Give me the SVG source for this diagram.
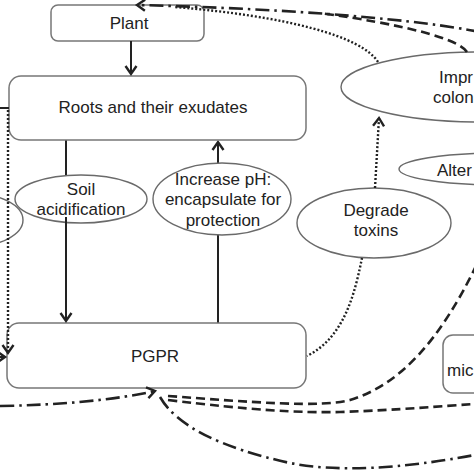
<svg xmlns="http://www.w3.org/2000/svg" width="474" height="474" viewBox="0 0 474 474">
<style>
.box{fill:#fff;stroke:#777;stroke-width:1.5}
.ell{fill:#fff;stroke:#6a6a6a;stroke-width:1.4}
.t{font-family:"Liberation Sans",Arial,sans-serif;font-size:17px;fill:#222}
.c{text-anchor:middle}
.solid{fill:none;stroke:#222;stroke-width:2}
.dot{fill:none;stroke:#222;stroke-width:2.4;stroke-dasharray:2 2}
.dash{fill:none;stroke:#222;stroke-width:2.6;stroke-dasharray:9 5}
.dd{fill:none;stroke:#222;stroke-width:2.6;stroke-dasharray:14 5 2.5 5}
</style>
<defs>
<marker id="ah" markerUnits="userSpaceOnUse" markerWidth="16" markerHeight="16" viewBox="-10 -8 12 16" refX="0" refY="0" orient="auto">
<path d="M-8,-5.5 L0,0 L-8,5.5" fill="none" stroke="#222" stroke-width="2.4"/>
</marker>
</defs>
<rect width="474" height="474" fill="#fff"/>
<g id="connectors-back">
<path class="solid" d="M66,140 V176"/>
<path class="solid" d="M218,323 V228"/>
<path class="solid" d="M218,164 V142" marker-end="url(#ah)"/>
</g>
<g id="node-left">
<ellipse class="ell" cx="-30" cy="220" rx="53" ry="27"/>
</g>
<g id="node-plant">
<rect class="box" x="51" y="5" width="153" height="36" rx="7"/>
<text class="t c" x="129" y="29">Plant</text>
</g>
<g id="node-roots">
<rect class="box" x="9" y="76" width="297" height="64" rx="12"/>
<text class="t c" x="153" y="113">Roots and their exudates</text>
</g>
<g id="node-pgpr">
<rect class="box" x="7" y="323" width="299" height="65" rx="12"/>
<text class="t c" x="155" y="362">PGPR</text>
</g>
<g id="node-soil">
<ellipse class="ell" cx="81" cy="199" rx="66" ry="24"/>
<text class="t c" x="81" y="195">Soil</text>
<text class="t c" x="81" y="215">acidification</text>
</g>
<g id="node-ph">
<ellipse class="ell" cx="222" cy="199" rx="69" ry="36"/>
<text class="t c" x="223" y="185">Increase pH:</text>
<text class="t c" x="223" y="205">encapsulate for</text>
<text class="t c" x="223" y="226">protection</text>
</g>
<g id="node-degrade">
<ellipse class="ell" cx="374" cy="223" rx="77" ry="35"/>
<text class="t c" x="376" y="216">Degrade</text>
<text class="t c" x="376" y="236">toxins</text>
</g>
<g id="node-improve">
<ellipse class="ell" cx="481" cy="87" rx="140" ry="35"/>
<text class="t" x="439" y="83">Impr</text>
<text class="t" x="433" y="103">colon</text>
</g>
<g id="node-alter">
<ellipse class="ell" cx="499" cy="169" rx="100" ry="16"/>
<text class="t" x="437" y="176">Alter</text>
</g>
<g id="node-mic">
<rect class="box" x="443" y="335" width="60" height="58" rx="10"/>
<text class="t" x="447" y="376">mic</text>
</g>
<g id="connectors">
<path class="solid" d="M131,41 V74" marker-end="url(#ah)"/>
<path class="solid" d="M66,217 V321" marker-end="url(#ah)"/>
<path class="solid" d="M0,108 H9"/>
<path class="dot" d="M8,110 V353" marker-end="url(#ah)"/>
<path class="solid" d="M-4,357 H5" marker-end="url(#ah)"/>
<path class="dd" d="M480,32 C420,20 300,9 137,5" marker-end="url(#ah)"/>
<path class="dash" d="M467,52 C458,38 400,24 320,13"/>
<path class="dot" d="M378,62 C362,36 285,16 175,7"/>
<path class="dot" d="M375,188 L379,118" marker-end="url(#ah)"/>
<path class="dot" d="M362,258 C355,292 345,337 307,356"/>
<path class="dd" d="M0,406 C60,405 115,400 155,391" marker-end="url(#ah)"/>
<path class="dd" d="M160,397 Q185,440 290,463 Q360,477 480,454"/>
<path class="dash" d="M168,396 C250,402 320,408 350,400 C400,385 440,340 476,266"/>
<path class="dash" d="M168,400 C250,410 300,413 340,412 C400,410 440,406 476,404"/>
</g>
</svg>
